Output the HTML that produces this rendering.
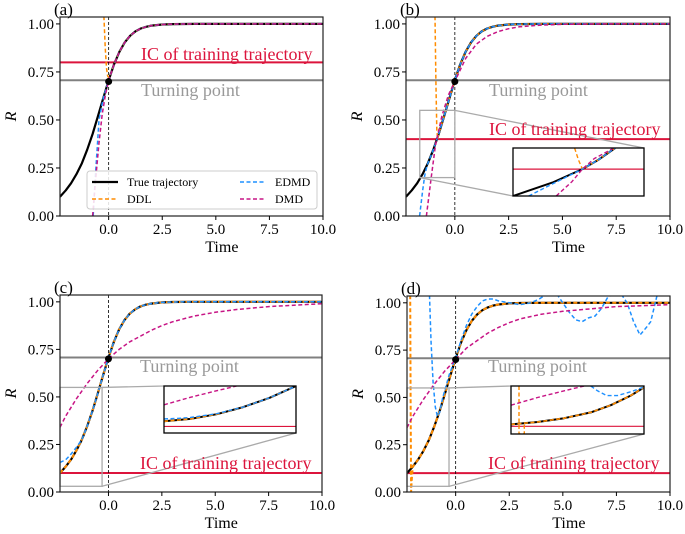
<!DOCTYPE html>
<html><head><meta charset="utf-8"><style>
body{margin:0;background:#fff}
svg{display:block;font-family:"Liberation Serif",serif}
</style></head><body>
<svg id="fig" width="685" height="534" viewBox="0 0 685 534" xmlns="http://www.w3.org/2000/svg"></svg>
<script>
// ---- data ----
const tTrue=[-2.27,-2,-1.75,-1.5,-1.25,-1,-0.75,-0.5,-0.25,0,0.25,0.5,0.75,1,1.25,1.5,1.75,2,2.5,3,4,5,7.5,10];
const rTrue=[0.10,0.134,0.171,0.218,0.275,0.345,0.427,0.519,0.614,0.707,0.789,0.855,0.904,0.938,0.961,0.976,0.985,0.991,0.997,0.999,1,1,1,1];
const xTicks=[0,2.5,5,7.5,10];
const xTickLabels=["0.0","2.5","5.0","7.5","10.0"];
const yTicks=[0,0.25,0.5,0.75,1];
const yTickLabels=["0.00","0.25","0.50","0.75","1.00"];
const icValues=[0.8,0.4,0.1,0.1];
const turningValue=0.707;
// panel a
const aDdlT=[-0.22,-0.16,-0.1,-0.05,0,0.1];
const aDdlR=[1.04,0.88,0.77,0.73,0.72,0.74];
const aEdmdT=[-0.72,-0.65,-0.55,-0.45];
const aEdmdR=[0,0.15,0.33,0.5];
const aDmdT=[-0.75,-0.6,-0.45,-0.3,-0.15];
const aDmdR=[0,0.2,0.38,0.53,0.63];
// panel b
const bDdlT=[-0.92,-0.88,-0.84,-0.8];
const bDdlR=[1.04,0.7,0.45,0.40];
const bEdmdT=[-1.64,-1.5,-1.4,-1.3];
const bEdmdR=[0,0.13,0.21,0.26];
const bDmdT=[-1.32,-1.1,-0.9,-0.6,-0.3,0,0.5,1,1.5,2,2.5,3,4,5,7,10];
const bDmdR=[0,0.2,0.37,0.52,0.63,0.70,0.82,0.895,0.935,0.96,0.975,0.985,0.994,0.998,1,1];
// panel c
const cEdmdT=[-2.27,-2,-1.75,-1.5];
const cEdmdR=[0.155,0.17,0.2,0.235];
const cDmdT=[-2.27,-2,-1.5,-1,-0.5,0,0.5,1,1.5,2,2.5,3,4,5,6,7.5,10];
const cDmdR=[0.34,0.40,0.49,0.57,0.64,0.70,0.75,0.79,0.82,0.85,0.875,0.895,0.925,0.945,0.96,0.975,0.99];
// panel d
const dDdlT=[-2.12,-2.1,-2.08,-2.05];
const dDdlR=[1.04,0.5,0,0.06];
const dEdmdT=[-1.22,-1.15,-1.05,-0.95,-0.85,-0.75,-0.6,-0.45,-0.3,0,0.25,0.5,0.75,1,1.25,1.5,1.75,2,2.5,3,3.5,3.9,4.3,4.7,5.0,5.3,5.6,5.9,6.2,6.5,6.8,7.1,7.4,7.7,8.0,8.3,8.6,8.9,9.1,9.4,9.7,10];
const dEdmdR=[1.04,0.8,0.58,0.45,0.40,0.42,0.50,0.56,0.62,0.71,0.80,0.88,0.94,0.98,1.01,1.02,1.02,1.01,1.0,0.99,1.0,1.02,1.05,1.05,1.0,0.95,0.91,0.90,0.92,0.93,0.97,1.03,1.05,1.05,1.0,0.9,0.83,0.87,0.9,1.04,1.06,1.06];
const dDmdT=[-2.27,-2,-1.5,-1,-0.5,0,0.5,1,1.5,2,2.5,3,4,5,6,7.5,10];
const dDmdR=[0.34,0.40,0.49,0.57,0.64,0.70,0.76,0.80,0.84,0.87,0.895,0.915,0.94,0.955,0.965,0.98,0.99];
// insets (normalized coords 0..1)
const bInTrueX=[0,0.13,0.3,0.53,0.65,0.78], bInTrueY=[0,0.12,0.28,0.56,0.75,1];
const bInEdmdX=[0.12,0.3,0.53,0.65,0.78], bInEdmdY=[0,0.25,0.56,0.75,1];
const bInDdlX=[0.47,0.5,0.53,0.65,0.78], bInDdlY=[1,0.75,0.56,0.75,1];
const bInDmdX=[0.33,0.45,0.53,0.62,0.77], bInDmdY=[0,0.3,0.56,0.78,1];
const bInRed=0.56;
const cInTrueX=[0,0.2,0.4,0.6,0.8,1], cInTrueY=[0.25,0.3,0.4,0.55,0.75,1];
const cInEdmdX=[0,0.1,0.2,0.4,0.6,0.8,1], cInEdmdY=[0.3,0.31,0.33,0.41,0.55,0.75,1];
const cInDmdX=[0,0.2,0.4,0.55], cInDmdY=[0.6,0.76,0.9,1];
const cInRed=0.14;
const dInTrueX=[0,0.2,0.4,0.6,0.75,0.9,1], dInTrueY=[0.2,0.25,0.33,0.45,0.6,0.8,0.97];
const dInEdmdX=[0.6,0.65,0.72,0.8,0.9,1], dInEdmdY=[1.0,0.9,0.8,0.8,0.88,0.98];
const dInDdlX=[0.06,0.06,0.1,0.1], dInDdlY=[1,0,0,0.2];
const dInDmdX=[0,0.2,0.4,0.55], dInDmdY=[0.6,0.76,0.9,1];
const dInRed=0.16;

// ---- drawing ----
const NS="http://www.w3.org/2000/svg";
const svg=document.getElementById('fig');
const COL={ddl:"#ff8c00",edmd:"#1e90ff",dmd:"#c71585",ic:"#dc143c",tp:"#808080"};
function mk(tag,attrs,parent){const e=document.createElementNS(NS,tag);for(const k in attrs)e.setAttribute(k,attrs[k]);(parent||svg).appendChild(e);return e;}
function withTail(T,R,t0){const t=T.slice(),r=R.slice();for(let i=0;i<tTrue.length;i++){if(tTrue[i]>t0){t.push(tTrue[i]);r.push(rTrue[i]);}}return [t,r];}
const XMIN=-2.27,XMAX=10,YMAX=1.036;
let clipId=0;
function panel(P){
  const g=mk('g',{});
  
  
  const sx=t=>P.L+(t-XMIN)/(XMAX-XMIN)*(P.R-P.L);
  const sy=v=>P.B-v/YMAX*(P.B-P.T);
  const cid='clip'+(clipId++);
  const cp=mk('clipPath',{id:cid},g);mk('rect',{x:P.L,y:P.T,width:P.R-P.L,height:P.B-P.T},cp);
  const plot=mk('g',{'clip-path':'url(#'+cid+')'},g);
  let l=mk('line',{x1:P.L,x2:P.R,y1:sy(P.ic),y2:sy(P.ic),stroke:COL.ic,'stroke-width':2},plot);
  
  l=mk('line',{x1:P.L,x2:P.R,y1:sy(turningValue),y2:sy(turningValue),stroke:COL.tp,'stroke-width':2},plot);
  
  l=mk('line',{x1:sx(0),x2:sx(0),y1:P.T,y2:P.B,stroke:'#000','stroke-width':0.8,'stroke-dasharray':'3,2'},plot);
  
  if(P.inset){const I=P.inset,bx=I.box;
    const r=mk('rect',{x:sx(bx[0]),y:sy(bx[3]),width:sx(bx[1])-sx(bx[0]),height:sy(bx[2])-sy(bx[3]),fill:'none',stroke:'#aaa','stroke-width':1.3},g);
    
    const corners={tl:[sx(bx[0]),sy(bx[3])],tr:[sx(bx[1]),sy(bx[3])],bl:[sx(bx[0]),sy(bx[2])],br:[sx(bx[1]),sy(bx[2])]};
    const ic={tl:[I.x1,I.y1],tr:[I.x2,I.y1],bl:[I.x1,I.y2],br:[I.x2,I.y2]};
    I.conn.forEach(c=>{const a=corners[c[0]],b=ic[c[1]];const cl=mk('line',{x1:a[0],y1:a[1],x2:b[0],y2:b[1],stroke:'#aaa','stroke-width':1.3},g);
      });
  }
  function series(T,R,color,w,dash,name,par,fx,fy){
    let d='';for(let i=0;i<T.length;i++)d+=(i?'L':'M')+fx(T[i]).toFixed(1)+','+fy(R[i]).toFixed(1);
    const p=mk('path',{d:d,fill:'none',stroke:color,'stroke-width':w,'stroke-linejoin':'round'},par);
    if(dash)p.setAttribute('stroke-dasharray',dash);
    
  }
  P.series.forEach(s=>series(s[0],s[1],s[2],s[3],s[4],s[5],plot,sx,sy));
  const dot=mk('circle',{cx:sx(0),cy:sy(0.7),r:3.5,fill:'#000'},plot);
  
  let t=mk('text',{x:P.icText[0],y:P.icText[1],fill:COL.ic,'font-size':18},g);t.textContent='IC of training trajectory';
  
  t=mk('text',{x:P.tpText[0],y:P.tpText[1],fill:'#999','font-size':18},g);t.textContent='Turning point';
  
  if(P.inset){const I=P.inset;
    const ig=mk('g',{},g);
    mk('rect',{x:I.x1,y:I.y1,width:I.x2-I.x1,height:I.y2-I.y1,fill:'#fff'},ig);
    const icid='clip'+(clipId++);const icp=mk('clipPath',{id:icid},ig);mk('rect',{x:I.x1,y:I.y1,width:I.x2-I.x1,height:I.y2-I.y1},icp);
    const ip=mk('g',{'clip-path':'url(#'+icid+')'},ig);
    const fx=v=>I.x1+v*(I.x2-I.x1),fy=v=>I.y2-v*(I.y2-I.y1);
    const rl=mk('line',{x1:I.x1,x2:I.x2,y1:fy(I.red),y2:fy(I.red),stroke:COL.ic,'stroke-width':1.2},ip);
    
    I.series.forEach(s=>series(s[0],s[1],s[2],s[3],s[4],s[5],ip,fx,fy));
    mk('rect',{x:I.x1,y:I.y1,width:I.x2-I.x1,height:I.y2-I.y1,fill:'none',stroke:'#000','stroke-width':1.3},ig);
  }
  const fr=mk('rect',{x:P.L,y:P.T,width:P.R-P.L,height:P.B-P.T,fill:'none',stroke:'#222','stroke-width':1.2},g);
  
  xTicks.forEach((v,i)=>{const x=sx(v);mk('line',{x1:x,x2:x,y1:P.B,y2:P.B+4,stroke:'#000','stroke-width':1},g);
    const tt=mk('text',{x:x,y:P.B+18,'font-size':15,'text-anchor':'middle'},g);tt.textContent=xTickLabels[i];
    });
  yTicks.forEach((v,i)=>{const y=sy(v);mk('line',{x1:P.L-4,x2:P.L,y1:y,y2:y,stroke:'#000','stroke-width':1},g);
    const tt=mk('text',{x:P.L-6,y:y+5,'font-size':15,'text-anchor':'end'},g);tt.textContent=yTickLabels[i];
    });
  let xl=mk('text',{x:(sx(0)+sx(10))/2+6,y:P.B+36,'font-size':16,'text-anchor':'middle'},g);xl.textContent='Time';
  
  let yl=mk('text',{x:P.L-50,y:(P.T+P.B)/2+6,'font-size':16,'font-style':'italic','text-anchor':'middle',transform:'rotate(-90 '+(P.L-50)+' '+((P.T+P.B)/2)+')'},g);yl.textContent='R';
  
  let pl=mk('text',{x:P.L-6,y:P.T-2,'font-size':17},g);pl.textContent='('+P.id+')';
  
}
const D='4,2.5';
const aDdl=withTail(aDdlT,aDdlR,0.2),aEdmd=withTail(aEdmdT,aEdmdR,-0.45),aDmd=withTail(aDmdT,aDmdR,-0.15);
panel({id:'a',L:60,R:323,T:17,B:216,ic:icValues[0],icText:[141,60],tpText:[141,96],
  series:[[tTrue,rTrue,'#000',2.2,null,'true-trajectory'],[aDdl[0],aDdl[1],COL.ddl,1.5,D,'ddl-series'],[aEdmd[0],aEdmd[1],COL.edmd,1.5,D,'edmd-series'],[aDmd[0],aDmd[1],COL.dmd,1.5,D,'dmd-series']]});
const bDdl=withTail(bDdlT,bDdlR,-0.8),bEdmd=withTail(bEdmdT,bEdmdR,-1.3);
panel({id:'b',L:406,R:670,T:17,B:216,ic:icValues[1],icText:[489,135],tpText:[489,96],
  series:[[tTrue,rTrue,'#000',2.2,null,'true-trajectory'],[bDdl[0],bDdl[1],COL.ddl,1.5,D,'ddl-series'],[bEdmd[0],bEdmd[1],COL.edmd,1.5,D,'edmd-series'],[bDmdT,bDmdR,COL.dmd,1.5,D,'dmd-series']],
  inset:{x1:513,x2:644,y1:148,y2:196,box:[-1.63,0,0.2,0.55],conn:[['tr','tr'],['bl','bl']],red:bInRed,
    series:[[bInTrueX,bInTrueY,'#000',2,null,'inset-true'],[bInDdlX,bInDdlY,COL.ddl,1.4,D,'inset-ddl'],[bInEdmdX,bInEdmdY,COL.edmd,1.4,D,'inset-edmd'],[bInDmdX,bInDmdY,COL.dmd,1.4,D,'inset-dmd']]}});
const cEdmd=withTail(cEdmdT,cEdmdR,-1.5);
panel({id:'c',L:60,R:322,T:295,B:492,ic:icValues[2],icText:[140,469],tpText:[140,372],
  series:[[tTrue,rTrue,'#000',2.2,null,'true-trajectory'],[tTrue,rTrue,COL.ddl,2,D,'ddl-series'],[cEdmd[0],cEdmd[1],COL.edmd,1.5,D,'edmd-series'],[cDmdT,cDmdR,COL.dmd,1.5,D,'dmd-series']],
  inset:{x1:164,x2:296,y1:386,y2:433,box:[-2.27,-0.3,0.03,0.55],conn:[['tr','tl'],['br','br']],red:cInRed,
    series:[[cInTrueX,cInTrueY,'#000',2,null,'inset-true'],[cInTrueX,cInTrueY,COL.ddl,1.6,D,'inset-ddl'],[cInEdmdX,cInEdmdY,COL.edmd,1.4,D,'inset-edmd'],[cInDmdX,cInDmdY,COL.dmd,1.4,D,'inset-dmd']]}});
const dDdl=withTail(dDdlT,dDdlR,-2.05);
panel({id:'d',L:407,R:670,T:296,B:492,ic:icValues[3],icText:[488,469],tpText:[488,372],
  series:[[tTrue,rTrue,'#000',2.2,null,'true-trajectory'],[dDdl[0],dDdl[1],COL.ddl,2,D,'ddl-series'],[dEdmdT,dEdmdR,COL.edmd,1.5,D,'edmd-series'],[dDmdT,dDmdR,COL.dmd,1.5,D,'dmd-series']],
  inset:{x1:511,x2:644,y1:386,y2:434,box:[-2.27,-0.31,0.03,0.55],conn:[['tr','tl'],['br','br']],red:dInRed,
    series:[[dInTrueX,dInTrueY,'#000',2,null,'inset-true'],[dInTrueX,dInTrueY,COL.ddl,1.6,D,'inset-ddl'],[dInDdlX,dInDdlY,COL.ddl,1.4,D,'inset-ddl-spike'],[dInEdmdX,dInEdmdY,COL.edmd,1.4,D,'inset-edmd'],[dInDmdX,dInDmdY,COL.dmd,1.4,D,'inset-dmd']]}});
const lg=mk('g',{});
mk('rect',{x:87,y:171,width:230,height:38,rx:3,fill:'#fff','fill-opacity':0.85,stroke:'#ccc','stroke-width':1},lg);
[['True trajectory','#000',null,92,182],['DDL',COL.ddl,D,92,199],['EDMD',COL.edmd,D,240,182],['DMD',COL.dmd,D,240,199]].forEach(e=>{
  const li=mk('line',{x1:e[3],x2:e[3]+26,y1:e[4],y2:e[4],stroke:e[1],'stroke-width':e[2]?1.5:2.2},lg);
  if(e[2])li.setAttribute('stroke-dasharray',e[2]);
  const tx=mk('text',{x:e[3]+35,y:e[4]+4,'font-size':12},lg);tx.textContent=e[0];
  
});
</script>
</body></html>
